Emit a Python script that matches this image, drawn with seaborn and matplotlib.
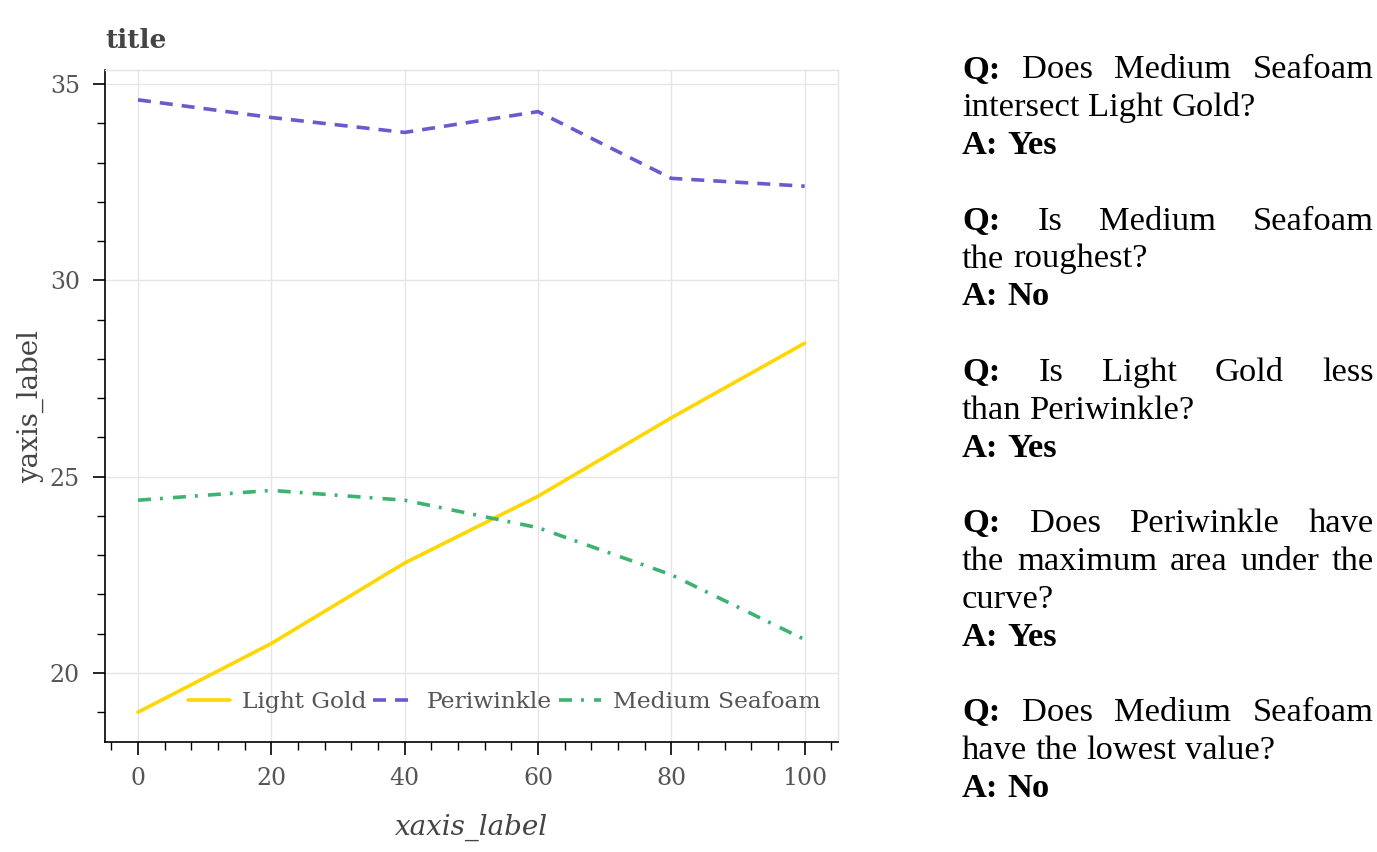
import numpy as np
import pandas as pd
import seaborn as sns
import matplotlib.pyplot as plt
from matplotlib.ticker import MultipleLocator


# values
x_vals = [0, 20, 40, 60, 80, 100]
light_gold = [19.0, 20.75, 22.8, 24.5, 26.5, 28.4]
periwinkle = [34.6, 34.15, 33.77, 34.3, 32.6, 32.4]
medium_seafoam = [24.4, 24.65, 24.4, 23.7, 22.5, 20.85]

series_names = ["Light Gold", "Periwinkle", "Medium Seafoam"]
series_colors = ["#FFD700", "#6A5ACD", "#3CB371"]

qa_lines = [
    ("Q: Does Medium Seafoam", True),
    ("intersect Light Gold?", False),
    ("A: Yes", False),
    None,
    ("Q: Is Medium Seafoam", True),
    ("the roughest?", False),
    ("A: No", False),
    None,
    ("Q: Is Light Gold less", True),
    ("than Periwinkle?", False),
    ("A: Yes", False),
    None,
    ("Q: Does Periwinkle have", True),
    ("the maximum area under the", True),
    ("curve?", False),
    ("A: Yes", False),
    None,
    ("Q: Does Medium Seafoam", True),
    ("have the lowest value?", False),
    ("A: No", False),
]

df = pd.DataFrame({
    "x": x_vals * 3,
    "y": light_gold + periwinkle + medium_seafoam,
    "series": np.repeat(series_names, len(x_vals)),
})

sns.set_theme(style="white")
plt.rcParams["font.family"] = ["DejaVu Serif"]

W, H = 1377, 852
fig = plt.figure(figsize=(W / 100, H / 100), dpi=100)
ax = fig.add_axes([105 / W, 1 - 742 / H, (838 - 105) / W, (742 - 70) / H])

sns.lineplot(data=df, x="x", y="y", hue="series", style="series",
             palette=dict(zip(series_names, series_colors)),
             dashes={"Light Gold": "", "Periwinkle": (3.6, 2.5),
                     "Medium Seafoam": (3.6, 2.5, 0.8, 2.8)},
             linewidth=2.6, ax=ax)

ax.set_xlim(-4.95, 105)
ax.set_ylim(18.24, 35.36)
ax.xaxis.set_major_locator(MultipleLocator(20))
ax.xaxis.set_minor_locator(MultipleLocator(4))
ax.yaxis.set_major_locator(MultipleLocator(5))
ax.yaxis.set_minor_locator(MultipleLocator(1))
ax.grid(True, which="major", color="#e5e5e5", linewidth=1)
ax.set_axisbelow(True)

for s in ["top", "right"]:
    ax.spines[s].set_color("#e5e5e5")
    ax.spines[s].set_linewidth(1)
for s in ["left", "bottom"]:
    ax.spines[s].set_color("black")
    ax.spines[s].set_linewidth(1.2)

ax.tick_params(which="major", direction="out", length=9, width=1.2, color="black",
               labelsize=17, labelcolor="#555555", pad=9, left=True, bottom=True)
ax.tick_params(which="minor", direction="out", length=5.5, width=1, color="black",
               left=True, bottom=True)

ax.set_title("title", loc="left", fontsize=19, fontweight="bold", color="#444444", pad=16)
ax.set_xlabel("xaxis_label", fontsize=20, style="italic", color="#444444", labelpad=17)
ax.set_ylabel("yaxis_label", fontsize=20, color="#444444", labelpad=4)

leg = ax.legend(loc="lower right", bbox_to_anchor=(1.005, 0.012), ncol=3, frameon=False,
                fontsize=16.8, handlelength=1.8, handletextpad=0.5, columnspacing=0.3,
                labelcolor="#555555")

# question / answer text, justified like the original
fig.canvas.draw()
rend = fig.canvas.get_renderer()
x0, x1 = 962, 1374
fs = 24.8
for i, item in enumerate(qa_lines):
    if item is None:
        continue
    line, justify = item
    yb = 1 - (78.5 + 37.8 * i) / H
    words = line.split(" ")
    bold_n = 0
    if words[0] in ("Q:", "A:"):
        bold_n = len(words) if words[0] == "A:" else 1
    arts = []
    for j, w in enumerate(words):
        t = fig.text(0, yb, w, fontsize=fs, family="Liberation Serif",
                     fontweight="bold" if j < bold_n else "normal",
                     color="black", va="baseline", ha="left")
        arts.append(t)
    widths = [t.get_window_extent(rend).width for t in arts]
    if justify and len(words) > 1:
        gap = (x1 - x0 - sum(widths)) / (len(words) - 1)
    else:
        gap = fs * 100 / 72 * 0.25
    cx = x0
    for t, wd in zip(arts, widths):
        t.set_x(cx / W)
        cx += wd + gap

fig.savefig("out.png", dpi=100)
